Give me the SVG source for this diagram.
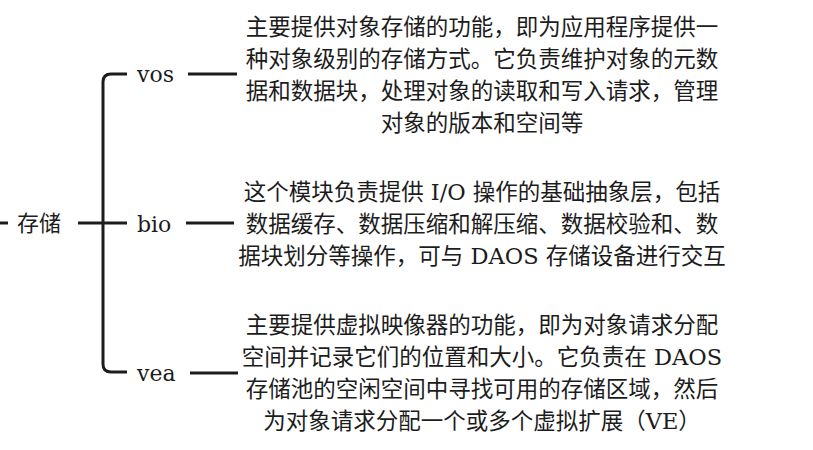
<svg xmlns="http://www.w3.org/2000/svg" width="813" height="450" viewBox="0 0 813 450">
  <style>
    .bg { fill: #ffffff; }
    .lbl { font-family: "DejaVu Serif", "Noto Sans CJK SC", serif; font-size: 22px; fill: #1c1c1c; }
    .desc { font-family: "DejaVu Serif", "Noto Sans CJK SC", serif; font-size: 22.5px; fill: #1c1c1c; text-anchor: middle; }
    .conn { fill: none; stroke: #1c1c1c; stroke-width: 3; stroke-linecap: butt; }
  </style>
  <rect class="bg" x="0" y="0" width="813" height="450"/>

  <g id="connectors">
    <path class="conn" d="M0,223 H8"/>
    <path class="conn" d="M78,223 H127"/>
    <path class="conn" d="M127,74 H111 Q103,74 103,82 V364 Q103,372 111,372 H127"/>
    <path class="conn" d="M188,74 H237"/>
    <path class="conn" d="M186,223 H234"/>
    <path class="conn" d="M190,373 H238"/>
  </g>

  <g id="node-storage">
    <text class="lbl" x="17" y="231">存储</text>
  </g>

  <g id="node-vos">
    <text class="lbl" x="137" y="82">vos</text>
  </g>

  <g id="node-bio">
    <text class="lbl" x="137" y="231.5">bio</text>
  </g>

  <g id="node-vea">
    <text class="lbl" x="137" y="381">vea</text>
  </g>

  <g id="node-vos-desc">
    <text class="desc" x="482" y="34.5">主要提供对象存储的功能，即为应用程序提供一</text>
    <text class="desc" x="482" y="66.5">种对象级别的存储方式。它负责维护对象的元数</text>
    <text class="desc" x="482" y="98.5">据和数据块，处理对象的读取和写入请求，管理</text>
    <text class="desc" x="482" y="130.5">对象的版本和空间等</text>
  </g>

  <g id="node-bio-desc">
    <text class="desc" x="482" y="199.5">这个模块负责提供 I/O 操作的基础抽象层，包括</text>
    <text class="desc" x="482" y="231.5">数据缓存、数据压缩和解压缩、数据校验和、数</text>
    <text class="desc" x="482" y="263.5">据块划分等操作，可与 DAOS 存储设备进行交互</text>
  </g>

  <g id="node-vea-desc">
    <text class="desc" x="482" y="332.5">主要提供虚拟映像器的功能，即为对象请求分配</text>
    <text class="desc" x="482" y="364.5">空间并记录它们的位置和大小。它负责在 DAOS</text>
    <text class="desc" x="482" y="396.5">存储池的空闲空间中寻找可用的存储区域，然后</text>
    <text class="desc" x="482" y="428.5">为对象请求分配一个或多个虚拟扩展（VE）</text>
  </g>
</svg>
